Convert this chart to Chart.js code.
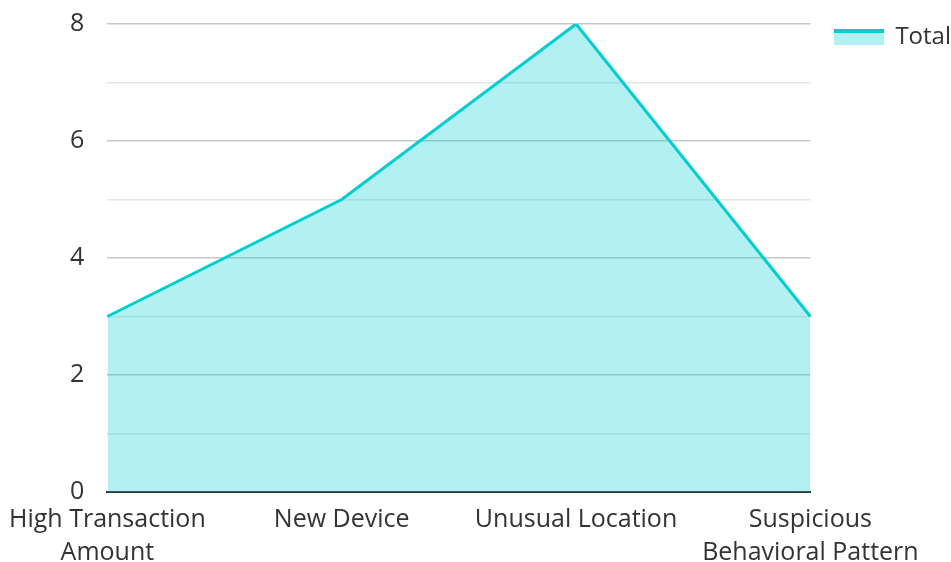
<!DOCTYPE html>
<html>
<head>
<meta charset="utf-8">
<script src="https://cdn.jsdelivr.net/npm/chart.js@4"></script>
<style>
  html, body { margin: 0; padding: 0; background: #fff; }
  #wrap { width: 951px; height: 562px; }
</style>
</head>
<body>
<div id="wrap"><canvas id="fraud-chart"></canvas></div>
<script>
const categories = [
    ["High Transaction", "Amount"],
    "New Device",
    "Unusual Location",
    ["Suspicious", "Behavioral Pattern"],
];
const totals = [3, 5, 8, 3];
const seriesName = "Total";

const lineColor = "rgba(0, 206, 209, 1)";
const fillColor = "rgba(0, 206, 209, .3)";

// legend marker: thick line on top of a filled strip
const marker = document.createElement("canvas");
marker.width = 50;
marker.height = 16;
const m = marker.getContext("2d");
m.fillStyle = fillColor;
m.fillRect(0, 0, 50, 16);
m.fillStyle = lineColor;
m.fillRect(0, 0, 50, 4);

Chart.defaults.font.family = "'Open Sans', 'Noto Sans', sans-serif";
Chart.defaults.font.size = 25;
Chart.defaults.color = "#333";

new Chart(document.getElementById("fraud-chart"), {
    type: "line",
    data: {
        labels: categories,
        datasets: [
            {
                label: seriesName,
                data: totals,
                fill: true,
                backgroundColor: fillColor,
                borderColor: lineColor,
                borderWidth: 3,
                pointRadius: 0,
                tension: 0,
                pointStyle: marker,
            },
        ],
    },
    options: {
        responsive: true,
        maintainAspectRatio: false,
        animation: false,
        layout: { padding: { top: 0, right: -10, left: 16, bottom: -10 } },
        scales: {
            x: {
                offset: false,
                grid: { display: false },
                border: { color: "#333", width: 2 },
                ticks: {
                    maxRotation: 0,
                    autoSkip: false,
                    padding: 3,
                    font: { size: 25, lineHeight: 1.32 },
                },
                // a little more room left of the first label
                afterFit: (scale) => {
                    scale.paddingLeft += 6;
                },
            },
            y: {
                min: 0,
                max: 8,
                border: { display: false },
                grid: {
                    drawTicks: false,
                    color: (c) => (c.tick.value % 2 === 0 ? "#c8c8c8" : "#e6e6e6"),
                    lineWidth: 1.5,
                },
                ticks: {
                    stepSize: 1,
                    padding: 23,
                    callback: (v) => (v % 2 === 0 ? v : ""),
                },
                // keep the top of the plot close to the canvas edge
                afterFit: (scale) => {
                    scale.paddingTop = 24;
                },
            },
        },
        plugins: {
            legend: {
                position: "right",
                align: "start",
                labels: {
                    usePointStyle: true,
                    pointStyleWidth: 48,
                    padding: 25,
                    font: { size: 24 },
                },
            },
            tooltip: { enabled: false },
        },
    },
});
</script>
</body>
</html>
